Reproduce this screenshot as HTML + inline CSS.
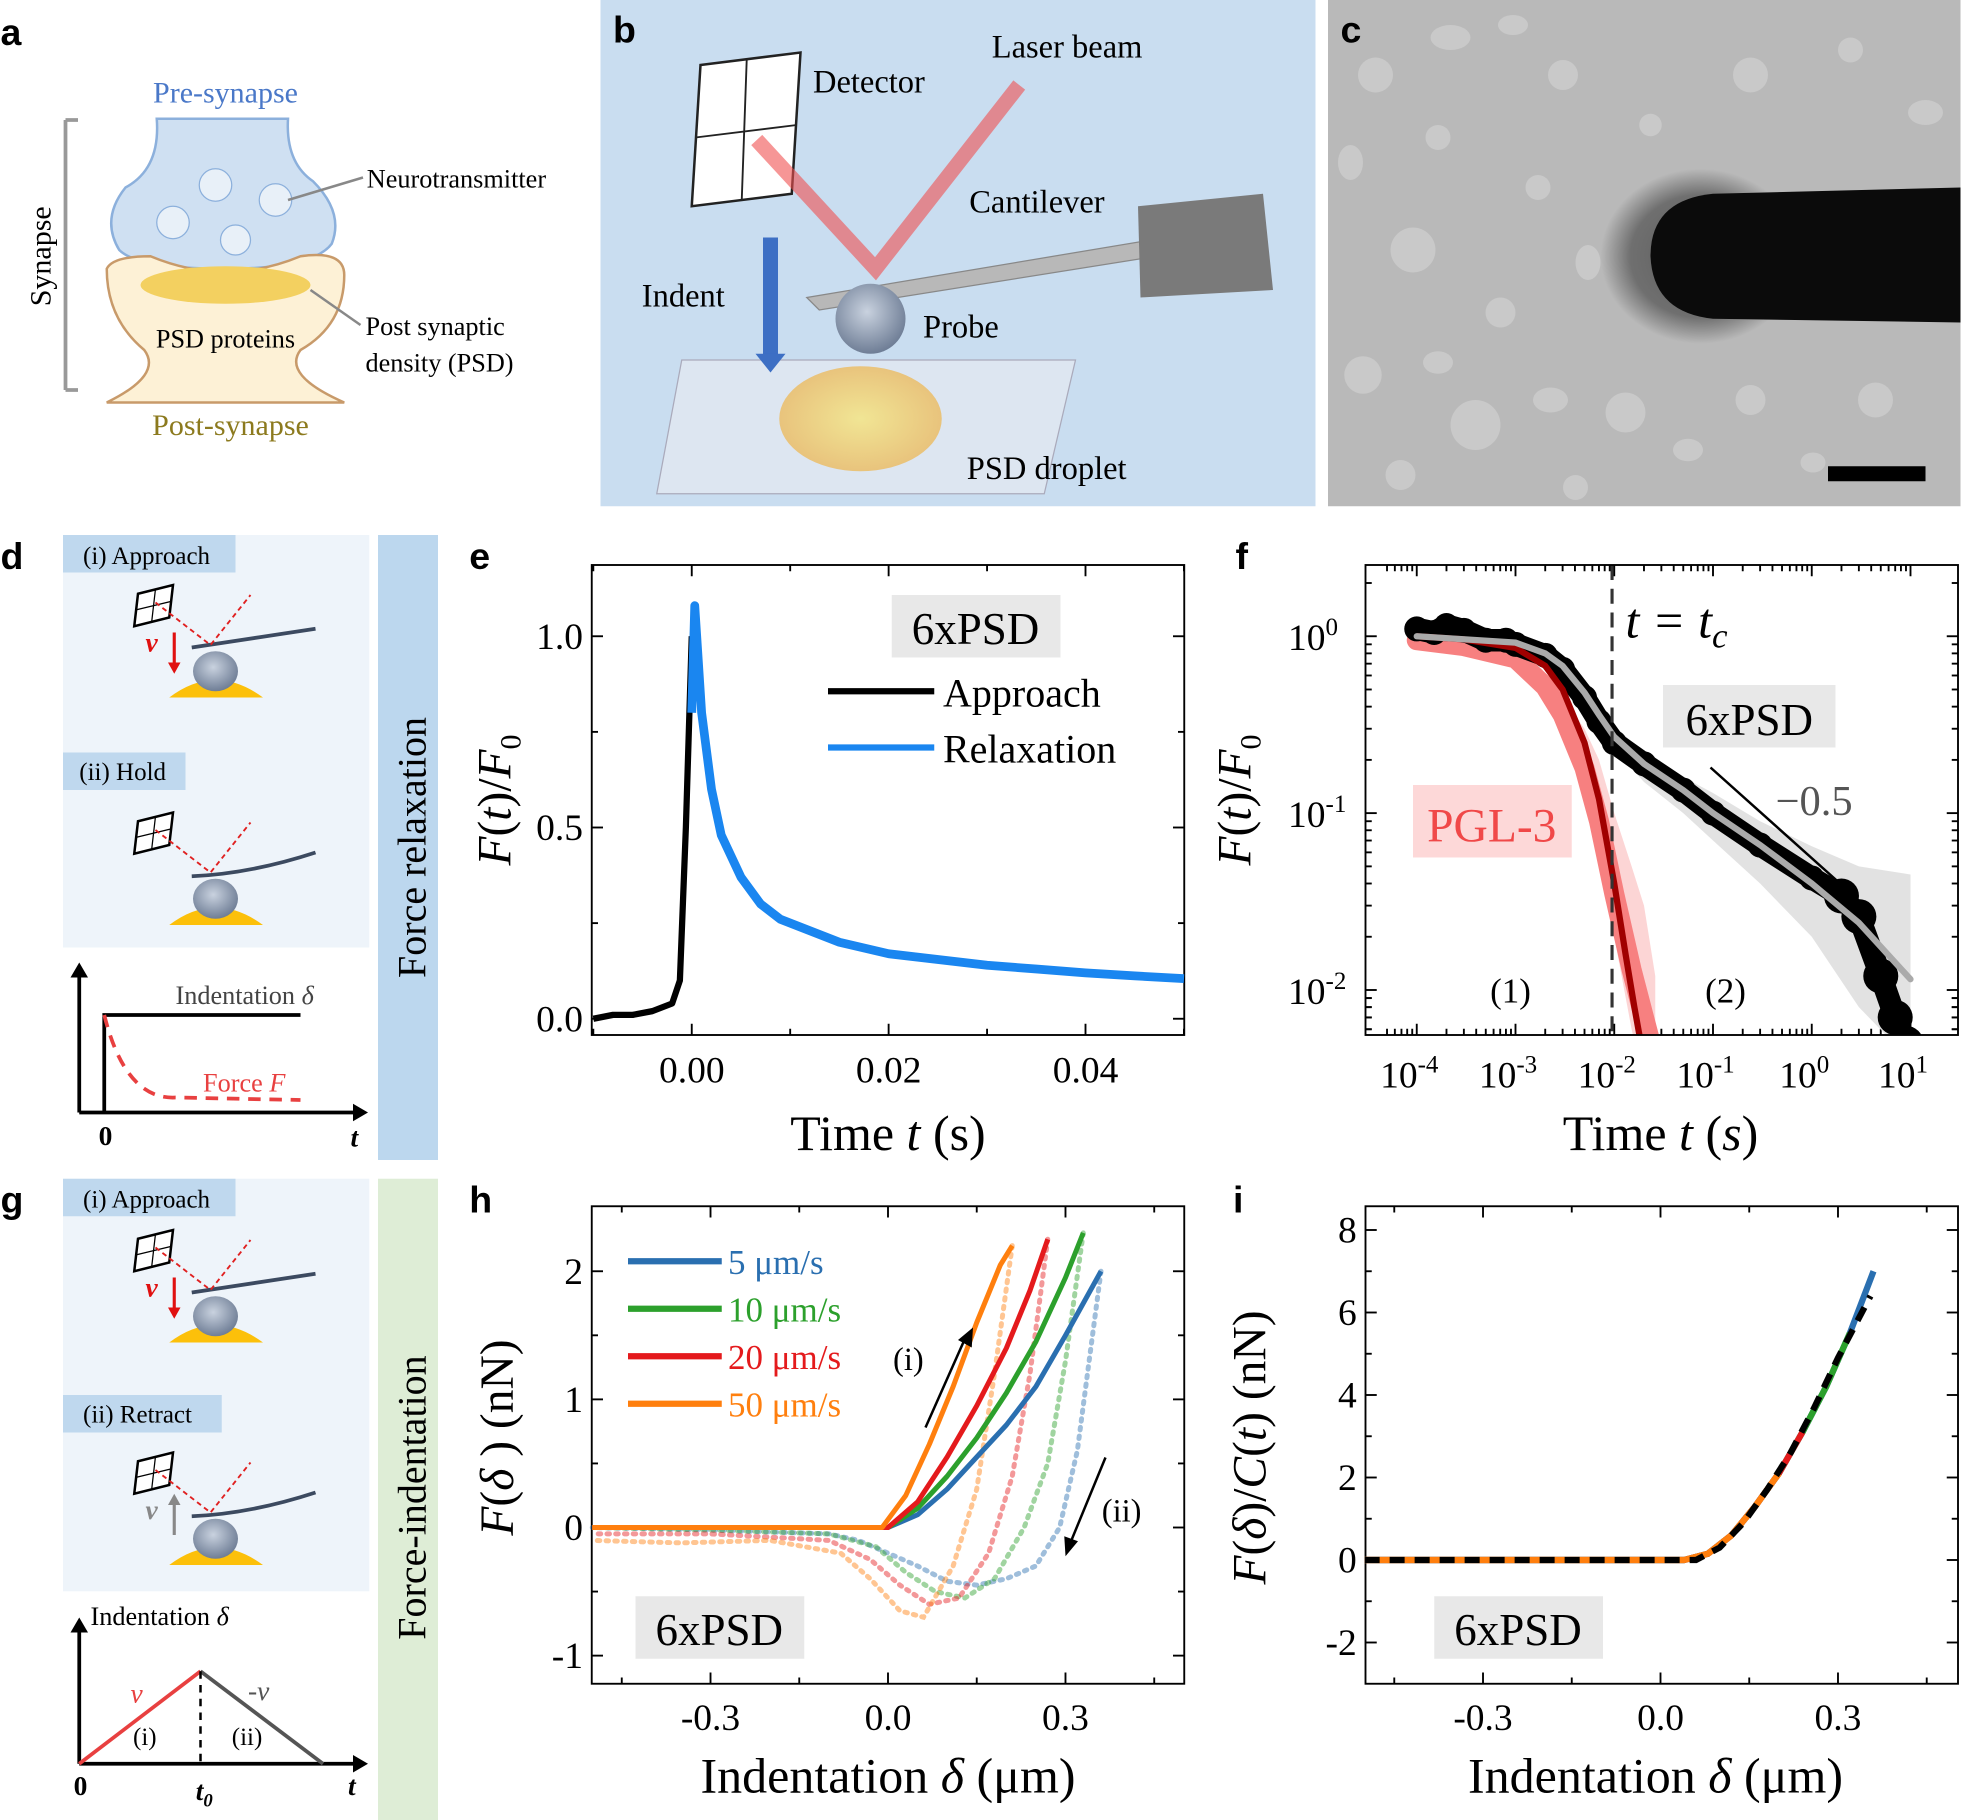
<!DOCTYPE html>
<html><head><meta charset="utf-8"><style>
html,body{margin:0;padding:0;background:#fff;}
svg{display:block;font-family:"Liberation Serif",serif;}
.lbl{font-family:"Liberation Sans",sans-serif;font-weight:bold;font-size:30px;}
</style></head><body>
<svg id="fig" width="1961" height="1820" viewBox="0 0 1568 1456" xmlns="http://www.w3.org/2000/svg">
<defs>
<radialGradient id="ball" cx="0.45" cy="0.4" r="0.6"><stop offset="0" stop-color="#c9d2df"/><stop offset="1" stop-color="#6f7e96"/></radialGradient>
<radialGradient id="drop" cx="0.5" cy="0.5" r="0.6"><stop offset="0" stop-color="#f3e58a"/><stop offset="1" stop-color="#e8b86a"/></radialGradient>
<radialGradient id="glow" cx="0.5" cy="0.5" r="0.5"><stop offset="0" stop-color="#000" stop-opacity="1"/><stop offset="0.7" stop-color="#000" stop-opacity="0.8"/><stop offset="1" stop-color="#000" stop-opacity="0"/></radialGradient>
</defs>

<!-- Panel a -->
<g>
<text class="lbl" x="0" y="36">a</text>
<text x="180" y="82" font-size="24" fill="#4a78c8" text-anchor="middle">Pre-synapse</text>
<path d="M52,96 H62 M52,96 V312 M52,312 H62" stroke="#999" stroke-width="3" fill="none"/>
<text x="40" y="205" font-size="24" text-anchor="middle" transform="rotate(-90 40 205)">Synapse</text>
<path d="M125,95 Q128,135 100,150 Q80,175 95,200 Q110,215 180,215 Q250,215 265,195 Q275,170 250,145 Q228,130 230,95 Z" fill="#cfe0f2" stroke="#8cb0dc" stroke-width="2"/>
<path d="M85,215 Q90,205 120,205 Q180,230 240,205 Q275,200 275,220 Q275,260 240,280 Q225,300 275,322 L85,322 Q130,300 115,280 Q85,255 85,215Z" fill="#fdf1d6" stroke="#c89a6a" stroke-width="2"/>
<ellipse cx="180" cy="228" rx="68" ry="15" fill="#f3d060"/>
<circle cx="172" cy="148" r="13" fill="#e8f0f8" stroke="#8cb0dc"/>
<circle cx="138" cy="178" r="13" fill="#e8f0f8" stroke="#8cb0dc"/>
<circle cx="220" cy="160" r="13" fill="#e8f0f8" stroke="#8cb0dc"/>
<circle cx="188" cy="192" r="12" fill="#e8f0f8" stroke="#8cb0dc"/>
<line x1="230" y1="160" x2="290" y2="142" stroke="#888" stroke-width="2"/>
<text x="293" y="150" font-size="21">Neurotransmitter</text>
<line x1="248" y1="232" x2="288" y2="260" stroke="#888" stroke-width="2"/>
<text x="292" y="268" font-size="21">Post synaptic</text>
<text x="292" y="297" font-size="21">density (PSD)</text>
<text x="180" y="278" font-size="21" text-anchor="middle">PSD proteins</text>
<text x="184" y="348" font-size="24" fill="#8c7a1e" text-anchor="middle">Post-synapse</text>
</g>

<!-- Panel b -->
<g>
<rect x="480" y="0" width="572" height="405" fill="#c9ddf0"/>
<text class="lbl" x="490" y="34">b</text>
<polygon points="525,395 545,288 860,288 835,395" fill="#dde6f1" stroke="#aab" stroke-width="1"/>
<ellipse cx="688" cy="335" rx="65" ry="42" fill="url(#drop)" opacity="0.9"/>
<path d="M560,52 L640,42 L633,155 L553,165 Z" fill="#fff" stroke="#222" stroke-width="2"/>
<path d="M597,47 L593,160 M556,110 L637,100" stroke="#222" stroke-width="1.5"/>
<path d="M605,112 L700,215 L815,68" stroke="#f05050" stroke-width="12" stroke-opacity="0.6" fill="none"/>
<polygon points="645,238 920,192 925,205 655,248" fill="#b8b8b8" stroke="#888"/>
<polygon points="910,165 1010,155 1018,232 912,238" fill="#7a7a7a"/>
<circle cx="696" cy="255" r="28" fill="url(#ball)"/>
<rect x="610" y="190" width="12" height="95" fill="#3d6fc4"/>
<polygon points="604,283 628,283 616,298" fill="#3d6fc4"/>
<text x="650" y="74" font-size="26">Detector</text>
<text x="793" y="46" font-size="26">Laser beam</text>
<text x="775" y="170" font-size="26">Cantilever</text>
<text x="513" y="245" font-size="26">Indent</text>
<text x="738" y="270" font-size="26">Probe</text>
<text x="773" y="383" font-size="26">PSD droplet</text>
</g>

<!-- Panel c -->
<g>
<rect x="1062" y="0" width="506" height="405" fill="#b9b9b9"/>
<g fill="#cdcdcd" opacity="0.8">
<circle cx="1100" cy="60" r="14"/><circle cx="1150" cy="110" r="10"/><circle cx="1130" cy="200" r="18"/><circle cx="1200" cy="250" r="12"/>
<circle cx="1090" cy="300" r="15"/><circle cx="1180" cy="340" r="20"/><circle cx="1250" cy="60" r="12"/><circle cx="1320" cy="100" r="9"/>
<circle cx="1400" cy="60" r="14"/><circle cx="1480" cy="40" r="10"/><circle cx="1300" cy="330" r="16"/><circle cx="1400" cy="320" r="12"/>
<circle cx="1230" cy="150" r="10"/><circle cx="1500" cy="320" r="14"/><circle cx="1120" cy="380" r="12"/><circle cx="1260" cy="390" r="10"/>
<ellipse cx="1160" cy="30" rx="16" ry="10"/><ellipse cx="1210" cy="20" rx="12" ry="8"/><ellipse cx="1080" cy="130" rx="10" ry="14"/>
<ellipse cx="1150" cy="290" rx="12" ry="9"/><ellipse cx="1240" cy="320" rx="14" ry="10"/><ellipse cx="1350" cy="360" rx="12" ry="9"/>
<ellipse cx="1450" cy="370" rx="10" ry="8"/><ellipse cx="1540" cy="90" rx="14" ry="10"/><ellipse cx="1270" cy="210" rx="10" ry="14"/>
</g>
<ellipse cx="1360" cy="205" rx="80" ry="70" fill="url(#glow)" opacity="0.5"/>
<path d="M1568,150 L1370,155 Q1320,160 1320,205 Q1322,250 1370,255 L1568,258 Z" fill="#0b0b0b"/>
<text class="lbl" x="1072" y="34">c</text>
<rect x="1462" y="373" width="78" height="12" fill="#000"/>
</g>

<!-- Panel d -->
<g>
<text class="lbl" x="0" y="455">d</text>
<rect x="50" y="428" width="245" height="330" fill="#eef4fa"/>
<rect x="50" y="428" width="138" height="30" fill="#bfd8ee"/>
<text x="66" y="451" font-size="20">(i) Approach</text>
<rect x="50" y="602" width="98" height="30" fill="#bfd8ee"/>
<text x="63" y="624" font-size="20">(ii) Hold</text>
<rect x="302" y="428" width="48" height="500" fill="#bcd7ee"/>
<text x="340" y="678" font-size="32" text-anchor="middle" transform="rotate(-90 340 678)">Force relaxation</text>
<path d="M63,890 V778 M63,890 H285" stroke="#000" stroke-width="3" fill="none"/>
<polygon points="56,782 70,782 63,770" fill="#000"/><polygon points="282,883 282,897 294,890" fill="#000"/>
<path d="M83,890 V812 H240" stroke="#000" stroke-width="3" fill="none"/>
<path d="M83,812 Q100,880 140,878 L240,880" stroke="#e84040" stroke-width="3" stroke-dasharray="10,7" fill="none"/>
<text x="140" y="803" font-size="21" fill="#444">Indentation <tspan font-style="italic">δ</tspan></text>
<text x="162" y="873" font-size="21" fill="#e84040">Force <tspan font-style="italic">F</tspan></text>
<text x="84" y="916" font-size="22" font-weight="bold" text-anchor="middle">0</text>
<text x="280" y="917" font-size="22" font-weight="bold" font-style="italic">t</text>
</g>

<!-- Panel g -->
<g>
<text class="lbl" x="0" y="970">g</text>
<rect x="50" y="943" width="245" height="330" fill="#eef4fa"/>
<rect x="50" y="943" width="138" height="30" fill="#bfd8ee"/>
<text x="66" y="966" font-size="20">(i) Approach</text>
<rect x="50" y="1116" width="127" height="30" fill="#bfd8ee"/>
<text x="66" y="1138" font-size="20">(ii) Retract</text>
<rect x="302" y="943" width="48" height="513" fill="#deedd6"/>
<text x="340" y="1198" font-size="32" text-anchor="middle" transform="rotate(-90 340 1198)">Force-indentation</text>
<path d="M63,1411 V1302 M63,1411 H285" stroke="#000" stroke-width="3" fill="none"/>
<polygon points="56,1306 70,1306 63,1294" fill="#000"/><polygon points="282,1404 282,1418 294,1411" fill="#000"/>
<path d="M63,1411 L160,1337" stroke="#e84040" stroke-width="3"/>
<path d="M160,1337 L258,1411" stroke="#555" stroke-width="3"/>
<path d="M160,1337 V1411" stroke="#000" stroke-width="2" stroke-dasharray="6,5"/>
<text x="72" y="1300" font-size="21">Indentation <tspan font-style="italic">δ</tspan></text>
<text x="104" y="1362" font-size="22" fill="#e84040" font-style="italic">v</text>
<text x="198" y="1360" font-size="22" fill="#555" font-style="italic">-v</text>
<text x="106" y="1396" font-size="20">(i)</text><text x="185" y="1396" font-size="20">(ii)</text>
<text x="64" y="1436" font-size="22" font-weight="bold" text-anchor="middle">0</text>
<text x="163" y="1440" font-size="22" font-weight="bold" font-style="italic" text-anchor="middle">t<tspan font-size="15" dy="5">0</tspan></text>
<text x="278" y="1436" font-size="22" font-weight="bold" font-style="italic">t</text>
</g>

<g id="chart-e"></g>
<g id="chart-f"></g>
<g id="chart-h"></g>
<g id="chart-i"></g>
</svg>
<script>
// ---------- Panel e data ----------
const eApproachT = [-0.01,-0.008,-0.006,-0.004,-0.002,-0.0012,-0.0006,0.0];
const eApproachF = [0.0,0.01,0.01,0.02,0.04,0.1,0.5,1.0];
const eRelaxT = [0.0,0.0003,0.001,0.002,0.003,0.005,0.007,0.009,0.012,0.015,0.02,0.025,0.03,0.035,0.04,0.045,0.05];
const eRelaxF = [0.8,1.08,0.8,0.6,0.48,0.37,0.3,0.26,0.23,0.2,0.17,0.155,0.14,0.13,0.12,0.112,0.105];
const eXTicks = [0,0.02,0.04];
const eXTickLabels = ["0.00","0.02","0.04"];
const eYTicks = [0,0.5,1.0];
const eYTickLabels = ["0.0","0.5","1.0"];
// ---------- Panel f data ----------
const fBlackT = [1e-4,1.5e-4,2e-4,3e-4,5e-4,8e-4,1e-3,2e-3,3e-3,5e-3,7e-3,1e-2,2e-2,5e-2,0.1,0.3,1,2,3,5,7,9];
const fBlackF = [1.1,1.05,1.15,1.08,0.95,0.95,0.9,0.78,0.65,0.45,0.33,0.25,0.19,0.135,0.1,0.066,0.043,0.034,0.026,0.012,0.007,0.005];
const fFitT = [1e-4,1e-3,2e-3,3e-3,5e-3,7e-3,1e-2,2e-2,5e-2,0.1,0.3,1,3,10];
const fFitF = [1.0,0.92,0.8,0.68,0.48,0.36,0.27,0.19,0.135,0.1,0.066,0.04,0.024,0.0115];
const fGrayUp = [1.05,0.96,0.84,0.72,0.52,0.4,0.31,0.22,0.16,0.13,0.09,0.065,0.05,0.045];
const fGrayLo = [0.95,0.88,0.76,0.64,0.44,0.32,0.23,0.15,0.1,0.07,0.04,0.02,0.008,0.004];
const fRedT = [1e-4,3e-4,1e-3,2e-3,3e-3,5e-3,7e-3,1e-2,1.5e-2,2e-2,2.6e-2];
const fRedF = [0.95,0.88,0.75,0.52,0.36,0.18,0.09,0.035,0.013,0.007,0.004];
const fRedUp = [1.0,0.93,0.8,0.6,0.45,0.3,0.2,0.1,0.05,0.03,0.012];
const fRedLo = [0.9,0.83,0.7,0.46,0.3,0.14,0.06,0.02,0.006,0.003,0.002];
const fDarkT = [1e-4,3e-4,1e-3,2e-3,3e-3,5e-3,7e-3,1e-2,1.3e-2,1.6e-2,2e-2];
const fDarkF = [1.0,0.96,0.86,0.68,0.5,0.25,0.12,0.04,0.016,0.008,0.004];
const fXTicks = [1e-4,1e-3,1e-2,1e-1,1,10];
const fXExp = ["-4","-3","-2","-1","0","1"];
const fYTicks = [1,0.1,0.01];
const fYExp = ["0","-1","-2"];
const fTc = 0.0095;
// ---------- Panel h data ----------
const hSeriesNames = ["5 μm/s","10 μm/s","20 μm/s","50 μm/s"];
const hColors = ["#2a6fb0","#2ca02c","#e41a1c","#ff7f0e"];
const hAppD = [[-0.5,0,0.05,0.1,0.15,0.2,0.25,0.3,0.36],[-0.5,0,0.05,0.1,0.15,0.2,0.25,0.3,0.33],[-0.5,0,0.05,0.1,0.15,0.2,0.24,0.27],[-0.5,-0.01,0.03,0.07,0.11,0.15,0.19,0.21]];
const hAppF = [[0,0,0.1,0.3,0.55,0.8,1.1,1.5,2.0],[0,0,0.15,0.4,0.7,1.05,1.45,1.95,2.3],[0,0,0.2,0.55,0.95,1.4,1.85,2.25],[0,0,0.25,0.65,1.1,1.6,2.05,2.2]];
const hRetD = [[0.36,0.34,0.32,0.29,0.25,0.2,0.15,0.1,0.05,0,-0.05,-0.1,-0.3,-0.5],[0.33,0.3,0.27,0.23,0.18,0.13,0.08,0.03,-0.02,-0.1,-0.3,-0.5],[0.27,0.24,0.21,0.17,0.12,0.07,0.02,-0.03,-0.1,-0.3,-0.5],[0.21,0.18,0.15,0.11,0.06,0.02,-0.03,-0.08,-0.2,-0.35,-0.5]];
const hRetF = [[2.0,1.3,0.6,0.0,-0.3,-0.4,-0.45,-0.42,-0.3,-0.2,-0.1,-0.05,-0.02,0],[2.3,1.3,0.5,0,-0.4,-0.55,-0.5,-0.35,-0.15,-0.05,-0.02,0],[2.25,1.2,0.4,-0.2,-0.55,-0.6,-0.45,-0.25,-0.1,-0.05,-0.05],[2.2,1.2,0.3,-0.3,-0.7,-0.65,-0.4,-0.2,-0.1,-0.12,-0.1]];
const hXTicks = [-0.3,0,0.3];
const hXTickLabels = ["-0.3","0.0","0.3"];
const hYTicks = [-1,0,1,2];
const hYTickLabels = ["-1","0","1","2"];
// ---------- Panel i data ----------
const iD = [-0.5,0.04,0.08,0.12,0.16,0.2,0.24,0.28,0.32,0.36];
const iF = [0,0,0.15,0.6,1.3,2.1,3.1,4.2,5.5,7.0];
const iEndD = [0.36,0.33,0.27,0.21];
const iFitD = [-0.5,0.06,0.1,0.14,0.18,0.22,0.26,0.3,0.355];
const iFitF = [0,0,0.3,0.9,1.7,2.6,3.7,4.9,6.4];
const iYTicks = [-2,0,2,4,6,8];
const iYTickLabels = ["-2","0","2","4","6","8"];

const NS="http://www.w3.org/2000/svg";
function mk(parent,tag,attrs,text){const el=document.createElementNS(NS,tag);for(const k in attrs)el.setAttribute(k,attrs[k]);if(text!==undefined)el.textContent=text;parent.appendChild(el);return el;}
function pts(xs,ys,fx,fy){return xs.map((x,i)=>fx(x).toFixed(1)+","+fy(ys[i]).toFixed(1)).join(" ");}
function frame(g,x0,y0,x1,y1){const r=mk(g,"rect",{x:x0,y:y0,width:x1-x0,height:y1-y0,fill:"none",stroke:"#000","stroke-width":1.5});}
function xtick(g,x,y0,y1,len){mk(g,"line",{x1:x,x2:x,y1:y1,y2:y1-len,stroke:"#000","stroke-width":1.5});mk(g,"line",{x1:x,x2:x,y1:y0,y2:y0+len,stroke:"#000","stroke-width":1.5});}
function ytick(g,y,x0,x1,len){mk(g,"line",{x1:x0,x2:x0+len,y1:y,y2:y,stroke:"#000","stroke-width":1.5});mk(g,"line",{x1:x1,x2:x1-len,y1:y,y2:y,stroke:"#000","stroke-width":1.5});}

// ===== Chart e =====
(function(){
const g=document.getElementById("chart-e");
const X=t=>553+t*7875, Y=v=>815-v*306;
const x0=473,x1=947,y0=452,y1=828;
mk(g,"text",{x:375,y:455,"font-family":"Liberation Sans",  "font-weight":"bold","font-size":30},"e");
frame(g,x0,y0,x1,y1);
eXTicks.forEach((t,i)=>{xtick(g,X(t),y0,y1,9);const l=mk(g,"text",{x:X(t),y:866,"font-size":30,"text-anchor":"middle"},eXTickLabels[i]);});
[-0.01,0.01,0.03,0.05].forEach(t=>xtick(g,X(t),y0,y1,5));
eYTicks.forEach((v,i)=>{ytick(g,Y(v),x0,x1,9);const l=mk(g,"text",{x:466,y:Y(v)+10,"font-size":30,"text-anchor":"end"},eYTickLabels[i]);});
[0.25,0.75].forEach(v=>ytick(g,Y(v),x0,x1,5));
const a=mk(g,"polyline",{points:pts(eApproachT,eApproachF,X,Y),fill:"none",stroke:"#000","stroke-width":5,"stroke-linejoin":"round"});

const r=mk(g,"polyline",{points:pts(eRelaxT,eRelaxF,X,Y),fill:"none",stroke:"#1a86f0","stroke-width":7,"stroke-linejoin":"round"});

mk(g,"rect",{x:713,y:476,width:135,height:50,fill:"#e8e8e8"});
mk(g,"text",{x:780,y:515,"font-size":36,"text-anchor":"middle"},"6xPSD");
mk(g,"line",{x1:662,x2:747,y1:553,y2:553,stroke:"#000","stroke-width":5});
mk(g,"text",{x:754,y:565,"font-size":32},"Approach");
mk(g,"line",{x1:662,x2:747,y1:598,y2:598,stroke:"#1a86f0","stroke-width":5});
mk(g,"text",{x:754,y:610,"font-size":32},"Relaxation");
const xt=mk(g,"text",{x:710,y:920,"font-size":40,"text-anchor":"middle"});xt.innerHTML='Time <tspan font-style="italic">t</tspan> (s)';

const yt=mk(g,"text",{x:408,y:640,"font-size":38,"text-anchor":"middle",transform:"rotate(-90 408 640)"});yt.innerHTML='<tspan font-style="italic">F</tspan>(<tspan font-style="italic">t</tspan>)/<tspan font-style="italic">F</tspan><tspan font-size="24" dy="8">0</tspan>';

})();

// ===== Chart f =====
(function(){
const g=document.getElementById("chart-f");
const X=t=>1291+79*Math.log10(t/1e-2), Y=v=>509-141.5*Math.log10(v);
const x0=1092,x1=1566,y0=452,y1=828;
mk(g,"text",{x:988,y:455,"font-family":"Liberation Sans","font-weight":"bold","font-size":30},"f");
fXTicks.forEach((t,i)=>{xtick(g,X(t),y0,y1,9);
 for(let k=2;k<10&&i<fXTicks.length-1;k++)xtick(g,X(t*k),y0,y1,5);
 const l=mk(g,"text",{x:X(t)-6,y:870,"font-size":30,"text-anchor":"middle"});l.innerHTML='10<tspan font-size="20" dy="-12">'+fXExp[i]+'</tspan>';
 });
for(let k=5;k<10;k++)xtick(g,X(1e-5*k),y0,y1,5);
fYTicks.forEach((v,i)=>{ytick(g,Y(v),x0,x1,9);
 for(let k=2;k<10;k++){const yy=Y(v*k/10);if(yy>y0&&yy<y1)ytick(g,yy,x0,x1,5);}
 const l=mk(g,"text",{x:1030,y:Y(v)+11,"font-size":30});l.innerHTML='10<tspan font-size="20" dy="-12">'+fYExp[i]+'</tspan>';
 });
for(let k=6;k<10;k++)ytick(g,Y(k/1e3),x0,x1,5);
ytick(g,Y(2),x0,x1,5);
const cp=mk(g,"clipPath",{id:"fclip"});mk(cp,"rect",{x:x0,y:y0,width:x1-x0,height:y1-y0});
const inner=mk(g,"g",{"clip-path":"url(#fclip)"});
const bandB=mk(inner,"polygon",{points:pts(fFitT.concat(fFitT.slice().reverse()),fGrayUp.concat(fGrayLo.slice().reverse()),X,Y),fill:"#ddd",opacity:0.85});

const bandR=mk(inner,"polygon",{points:pts(fRedT.concat(fRedT.slice().reverse()),fRedUp.concat(fRedLo.slice().reverse()),X,Y),fill:"#fcd0d0",opacity:0.9});

const red=mk(inner,"polyline",{points:pts(fRedT,fRedF,X,Y),fill:"none",stroke:"#f78080","stroke-width":16,"stroke-linejoin":"round","stroke-linecap":"round"});

const blk=mk(inner,"polyline",{points:pts(fBlackT,fBlackF,X,Y),fill:"none",stroke:"#000","stroke-width":18,"stroke-linejoin":"round","stroke-linecap":"round"});

fBlackT.forEach((t,i)=>{const c=mk(inner,"circle",{cx:X(t),cy:Y(fBlackF[i]),r:i>16?14:10,fill:"#000"});});
const dk=mk(inner,"polyline",{points:pts(fDarkT,fDarkF,X,Y),fill:"none",stroke:"#a00000","stroke-width":5});

const ft=mk(inner,"polyline",{points:pts(fFitT,fFitF,X,Y),fill:"none",stroke:"#aaa","stroke-width":5,"stroke-linecap":"round"});

const tc=mk(g,"line",{x1:X(fTc),x2:X(fTc),y1:y0,y2:y1,stroke:"#333","stroke-width":2.5,"stroke-dasharray":"12,7"});

frame(g,x0,y0,x1,y1);
const tt=mk(g,"text",{x:1300,y:510,"font-size":40,"font-style":"italic"});tt.innerHTML='t = t<tspan font-size="28" dy="8">c</tspan>';
mk(g,"rect",{x:1330,y:548,width:138,height:50,fill:"#e8e8e8"});
mk(g,"text",{x:1399,y:588,"font-size":36,"text-anchor":"middle"},"6xPSD");
mk(g,"rect",{x:1130,y:628,width:127,height:58,fill:"#fdd8d8"});
mk(g,"text",{x:1193,y:673,"font-size":38,"text-anchor":"middle",fill:"#f04848"},"PGL-3");
mk(g,"line",{x1:1368,y1:614,x2:1473,y2:708,stroke:"#000","stroke-width":2});
mk(g,"text",{x:1420,y:652,"font-size":34,fill:"#555"},"−0.5");
mk(g,"text",{x:1208,y:802,"font-size":28,"text-anchor":"middle"},"(1)");
mk(g,"text",{x:1380,y:802,"font-size":28,"text-anchor":"middle"},"(2)");
const xt=mk(g,"text",{x:1328,y:920,"font-size":40,"text-anchor":"middle"});xt.innerHTML='Time <tspan font-style="italic">t</tspan> (<tspan font-style="italic">s</tspan>)';

const yt=mk(g,"text",{x:1000,y:640,"font-size":38,"text-anchor":"middle",transform:"rotate(-90 1000 640)"});yt.innerHTML='<tspan font-style="italic">F</tspan>(<tspan font-style="italic">t</tspan>)/<tspan font-style="italic">F</tspan><tspan font-size="24" dy="8">0</tspan>';

})();

// ===== Chart h =====
(function(){
const g=document.getElementById("chart-h");
const X=d=>710+d*473.3, Y=v=>1222-v*102.5;
const x0=473,x1=947,y0=965,y1=1347;
mk(g,"text",{x:375,y:970,"font-family":"Liberation Sans","font-weight":"bold","font-size":30},"h");
frame(g,x0,y0,x1,y1);
hXTicks.forEach((t,i)=>{xtick(g,X(t),y0,y1,9);const l=mk(g,"text",{x:X(t),y:1384,"font-size":30,"text-anchor":"middle"},hXTickLabels[i]);});
[-0.45,-0.15,0.15,0.45].forEach(t=>xtick(g,X(t),y0,y1,5));
hYTicks.forEach((v,i)=>{ytick(g,Y(v),x0,x1,9);const l=mk(g,"text",{x:466,y:Y(v)+10,"font-size":30,"text-anchor":"end"},hYTickLabels[i]);});
[-0.5,0.5,1.5].forEach(v=>ytick(g,Y(v),x0,x1,5));
for(let s=0;s<4;s++){
 const r=mk(g,"polyline",{points:pts(hRetD[s],hRetF[s],X,Y),fill:"none",stroke:hColors[s],"stroke-opacity":0.45,"stroke-width":4,"stroke-dasharray":"2,5","stroke-linecap":"round"});
 
}
for(let s=0;s<4;s++){
 const a=mk(g,"polyline",{points:pts(hAppD[s],hAppF[s],X,Y),fill:"none",stroke:hColors[s],"stroke-width":4,"stroke-linejoin":"round"});
 
 const ly=1009+s*38;
 const le=mk(g,"line",{x1:502,x2:577,y1:ly,y2:ly,stroke:hColors[s],"stroke-width":5});
 
 mk(g,"text",{x:582,y:ly+10,"font-size":28,fill:hColors[s]},hSeriesNames[s]);
}
mk(g,"line",{x1:740,y1:1142,x2:772,y2:1070,stroke:"#000","stroke-width":2});
mk(g,"polygon",{points:"766,1072 778,1062 777,1078",fill:"#000"});
mk(g,"text",{x:714,y:1096,"font-size":26},"(i)");
mk(g,"line",{x1:884,y1:1166,x2:856,y2:1234,stroke:"#000","stroke-width":2});
mk(g,"polygon",{points:"851,1229 862,1233 852,1245",fill:"#000"});
mk(g,"text",{x:881,y:1217,"font-size":26},"(ii)");
mk(g,"rect",{x:508,y:1277,width:135,height:50,fill:"#e8e8e8"});
mk(g,"text",{x:575,y:1316,"font-size":36,"text-anchor":"middle"},"6xPSD");
const xt=mk(g,"text",{x:710,y:1434,"font-size":40,"text-anchor":"middle"});xt.innerHTML='Indentation <tspan font-style="italic">δ</tspan>  (μm)';

const yt=mk(g,"text",{x:410,y:1150,"font-size":38,"text-anchor":"middle",transform:"rotate(-90 410 1150)"});yt.innerHTML='<tspan font-style="italic">F</tspan>(<tspan font-style="italic">δ</tspan> )  (nN)';

})();

// ===== Chart i =====
(function(){
const g=document.getElementById("chart-i");
const X=d=>1328+d*473.3, Y=v=>1248-v*33;
const x0=1092,x1=1566,y0=965,y1=1347;
mk(g,"text",{x:986,y:970,"font-family":"Liberation Sans","font-weight":"bold","font-size":30},"i");
frame(g,x0,y0,x1,y1);
hXTicks.forEach((t,i)=>{xtick(g,X(t),y0,y1,9);const l=mk(g,"text",{x:X(t),y:1384,"font-size":30,"text-anchor":"middle"},hXTickLabels[i]);});
[-0.45,-0.15,0.15,0.45].forEach(t=>xtick(g,X(t),y0,y1,5));
iYTicks.forEach((v,i)=>{ytick(g,Y(v),x0,x1,9);const l=mk(g,"text",{x:1085,y:Y(v)+10,"font-size":30,"text-anchor":"end"},iYTickLabels[i]);});
[-1,1,3,5,7].forEach(v=>ytick(g,Y(v),x0,x1,5));
for(let s=0;s<4;s++){
 const dd=[],ff=[];
 iD.forEach((d,k)=>{if(d<=iEndD[s]){dd.push(d);ff.push(iF[k]);}});
 const a=mk(g,"polyline",{points:pts(dd,ff,X,Y),fill:"none",stroke:hColors[s],"stroke-width":5,"stroke-linejoin":"round"});
 
}
const f=mk(g,"polyline",{points:pts(iFitD,iFitF,X,Y),fill:"none",stroke:"#000","stroke-width":5,"stroke-dasharray":"12,8"});

mk(g,"rect",{x:1147,y:1277,width:135,height:50,fill:"#e8e8e8"});
mk(g,"text",{x:1214,y:1316,"font-size":36,"text-anchor":"middle"},"6xPSD");
const xt=mk(g,"text",{x:1324,y:1434,"font-size":40,"text-anchor":"middle"});xt.innerHTML='Indentation <tspan font-style="italic">δ</tspan>  (μm)';

const yt=mk(g,"text",{x:1012,y:1158,"font-size":38,"text-anchor":"middle",transform:"rotate(-90 1012 1158)"});yt.innerHTML='<tspan font-style="italic">F</tspan>(<tspan font-style="italic">δ</tspan>)/<tspan font-style="italic">C</tspan>(<tspan font-style="italic">t</tspan>)  (nN)';

})();

// ===== Schematics in d and g =====
function schematic(oy,arrowColor,up,bend){
 const g=document.getElementById("fig");
 const s=mk(g,"g",{});
 
 
 mk(s,"path",{d:`M135,${oy+58} Q172,${oy+30} 210,${oy+58} Z`,fill:"#fcc00a"});
 mk(s,"ellipse",{cx:172,cy:oy+37,rx:18,ry:16,fill:"url(#ball)"});
 mk(s,"path",{d:bend?`M153,${oy+19} Q200,${oy+17} 252,${oy}`:`M153,${oy+18} L252,${oy+3}`,stroke:"#3c4a60","stroke-width":3,fill:"none"});
 mk(s,"path",{d:`M110,${oy-25} L138,${oy-32} L135,${oy-6} L107,${oy+1} Z`,fill:"#fff",stroke:"#000","stroke-width":2});
 mk(s,"path",{d:`M124,${oy-29} L121,${oy-3} M108,${oy-12} L137,${oy-19}`,stroke:"#000","stroke-width":1});
 mk(s,"path",{d:`M124,${oy-18} L168,${oy+16} L200,${oy-24}`,stroke:"#e02020","stroke-width":1.5,"stroke-dasharray":"4,3",fill:"none"});
 if(arrowColor){
  mk(s,"line",{x1:139,x2:139,y1:oy+6,y2:oy+34,stroke:arrowColor,"stroke-width":2.5});
  if(up) mk(s,"polygon",{points:`134,${oy+10} 144,${oy+10} 139,${oy+1}`,fill:arrowColor});
  else mk(s,"polygon",{points:`134,${oy+30} 144,${oy+30} 139,${oy+39}`,fill:arrowColor});
  mk(s,"text",{x:116,y:oy+21,"font-size":22,"font-style":"italic","font-weight":"bold",fill:arrowColor},"v");
 }
}
schematic(500,"#e01010",false,false);
schematic(682,null,false,true);
schematic(1016,"#e01010",false,false);
schematic(1194,"#888",true,true);
</script>
</body></html>
